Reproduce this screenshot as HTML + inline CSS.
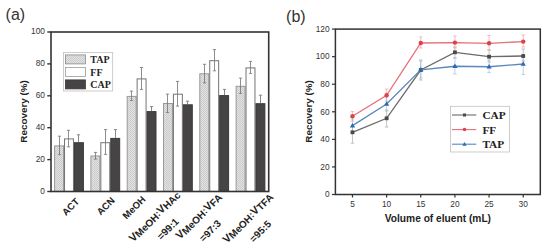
<!DOCTYPE html><html><head><meta charset="utf-8"><style>
html,body{margin:0;padding:0;background:#fff;}
svg{display:block;}
#w{width:550px;height:248px;overflow:hidden;}
text{font-family:"Liberation Sans",sans-serif;fill:#333;}
.tk{font-size:8.3px;}
.ttl{font-size:9.9px;font-weight:bold;fill:#222;}
.ttl2{font-size:10.2px;font-weight:bold;fill:#222;}
.pl{font-size:16px;fill:#333;}
.xl{font-size:9.6px;font-weight:bold;fill:#222;}
.lg{font-family:"Liberation Serif",serif;font-weight:bold;font-size:10px;fill:#252525;}
.lg2{font-family:"Liberation Serif",serif;font-weight:bold;font-size:11.3px;fill:#222;}
</style></head><body><div id="w"><svg width="550" height="248" viewBox="0 0 550 248"><defs><filter id="bl" x="0" y="0" width="1" height="1" color-interpolation-filters="sRGB"><feGaussianBlur stdDeviation="0"/></filter><pattern id="chk" width="2" height="2" patternUnits="userSpaceOnUse"><rect width="2" height="2" fill="#e2e2e2"/><rect width="1" height="1" fill="#cbcbcb"/><rect x="1" y="1" width="1" height="1" fill="#cbcbcb"/></pattern></defs><g><rect x="54.6" y="145.9" width="8.93" height="45.6" fill="url(#chk)" stroke="#999" stroke-width="1"/><rect x="64.53" y="138.9" width="8.93" height="52.6" fill="#fff" stroke="#747474" stroke-width="1"/><rect x="74.46" y="142.7" width="8.93" height="48.8" fill="#464444" stroke="#3a3a3a" stroke-width="1"/><rect x="90.9" y="156" width="8.93" height="35.5" fill="url(#chk)" stroke="#999" stroke-width="1"/><rect x="100.83" y="142.7" width="8.93" height="48.8" fill="#fff" stroke="#747474" stroke-width="1"/><rect x="110.76" y="138.4" width="8.93" height="53.1" fill="#464444" stroke="#3a3a3a" stroke-width="1"/><rect x="127.2" y="96.4" width="8.93" height="95.1" fill="url(#chk)" stroke="#999" stroke-width="1"/><rect x="137.13" y="78.9" width="8.93" height="112.6" fill="#fff" stroke="#747474" stroke-width="1"/><rect x="147.06" y="111.6" width="8.93" height="79.9" fill="#464444" stroke="#3a3a3a" stroke-width="1"/><rect x="163.5" y="103.5" width="8.93" height="88" fill="url(#chk)" stroke="#999" stroke-width="1"/><rect x="173.43" y="94.2" width="8.93" height="97.3" fill="#fff" stroke="#747474" stroke-width="1"/><rect x="183.36" y="104.8" width="8.93" height="86.7" fill="#464444" stroke="#3a3a3a" stroke-width="1"/><rect x="199.8" y="73.8" width="8.93" height="117.7" fill="url(#chk)" stroke="#999" stroke-width="1"/><rect x="209.73" y="60.7" width="8.93" height="130.8" fill="#fff" stroke="#747474" stroke-width="1"/><rect x="219.66" y="95.6" width="8.93" height="95.9" fill="#464444" stroke="#3a3a3a" stroke-width="1"/><rect x="236.1" y="86.3" width="8.93" height="105.2" fill="url(#chk)" stroke="#999" stroke-width="1"/><rect x="246.03" y="67.9" width="8.93" height="123.6" fill="#fff" stroke="#747474" stroke-width="1"/><rect x="255.96" y="103.7" width="8.93" height="87.8" fill="#464444" stroke="#3a3a3a" stroke-width="1"/><path d="M59.5 136.2V154.6M57.9 136.2H61.1M57.9 154.6H61.1" stroke="#7a7a7a" stroke-width="0.85" fill="none"/><path d="M68.5 130.3V146.8M66.9 130.3H70.1M66.9 146.8H70.1" stroke="#7a7a7a" stroke-width="0.85" fill="none"/><path d="M78.5 134.8V142.2M76.9 134.8H80.1" stroke="#7a7a7a" stroke-width="0.9" fill="none"/><path d="M95.5 152.4V159.1M93.9 152.4H97.1M93.9 159.1H97.1" stroke="#7a7a7a" stroke-width="0.85" fill="none"/><path d="M105.5 129.6V154.4M103.9 129.6H107.1M103.9 154.4H107.1" stroke="#7a7a7a" stroke-width="0.85" fill="none"/><path d="M115.5 129.6V137.9M113.9 129.6H117.1" stroke="#7a7a7a" stroke-width="0.9" fill="none"/><path d="M131.5 91.1V100.5M129.9 91.1H133.1M129.9 100.5H133.1" stroke="#7a7a7a" stroke-width="0.85" fill="none"/><path d="M141.5 67.5V89.4M139.9 67.5H143.1M139.9 89.4H143.1" stroke="#7a7a7a" stroke-width="0.85" fill="none"/><path d="M151.5 106.6V111.1M149.9 106.6H153.1" stroke="#7a7a7a" stroke-width="0.9" fill="none"/><path d="M167.5 94.1V112.5M165.9 94.1H169.1M165.9 112.5H169.1" stroke="#7a7a7a" stroke-width="0.85" fill="none"/><path d="M177.5 81.4V106.1M175.9 81.4H179.1M175.9 106.1H179.1" stroke="#7a7a7a" stroke-width="0.85" fill="none"/><path d="M187.5 101.2V104.3M185.9 101.2H189.1" stroke="#7a7a7a" stroke-width="0.9" fill="none"/><path d="M204.5 64.3V82.9M202.9 64.3H206.1M202.9 82.9H206.1" stroke="#7a7a7a" stroke-width="0.85" fill="none"/><path d="M214.5 49.6V70.8M212.9 49.6H216.1M212.9 70.8H216.1" stroke="#7a7a7a" stroke-width="0.85" fill="none"/><path d="M224.5 89.4V95.1M222.9 89.4H226.1" stroke="#7a7a7a" stroke-width="0.9" fill="none"/><path d="M240.5 78.1V93.4M238.9 78.1H242.1M238.9 93.4H242.1" stroke="#7a7a7a" stroke-width="0.85" fill="none"/><path d="M250.5 61.4V73.4M248.9 61.4H252.1M248.9 73.4H252.1" stroke="#7a7a7a" stroke-width="0.85" fill="none"/><path d="M260.5 95.2V103.2M258.9 95.2H262.1" stroke="#7a7a7a" stroke-width="0.9" fill="none"/><rect x="51" y="32" width="217.7" height="159.5" fill="none" stroke="#333" stroke-width="1.6"/><path d="M47.3 191.5H51" stroke="#333" stroke-width="1.4"/><text x="44.9" y="193.5" text-anchor="end" class="tk">0</text><path d="M47.3 159.6H51" stroke="#333" stroke-width="1.4"/><text x="44.9" y="161.6" text-anchor="end" class="tk">20</text><path d="M47.3 127.7H51" stroke="#333" stroke-width="1.4"/><text x="44.9" y="129.7" text-anchor="end" class="tk">40</text><path d="M47.3 95.8H51" stroke="#333" stroke-width="1.4"/><text x="44.9" y="97.8" text-anchor="end" class="tk">60</text><path d="M47.3 63.9H51" stroke="#333" stroke-width="1.4"/><text x="44.9" y="65.9" text-anchor="end" class="tk">80</text><path d="M47.3 32H51" stroke="#333" stroke-width="1.4"/><text x="44.9" y="34" text-anchor="end" class="tk">100</text><text transform="translate(26.8 111.4) rotate(-90)" text-anchor="middle" class="ttl">Recovery (%)</text><text x="5.6" y="20.0" class="pl">(a)</text><rect x="63.5" y="52.4" width="49.2" height="38.6" fill="#fff" stroke="#c0c0c0" stroke-width="0.8"/><rect x="65.4" y="54.9" width="20" height="9" fill="url(#chk)" stroke="#8a8a8a" stroke-width="0.8"/><text x="90.3" y="63.1" class="lg">TAP</text><rect x="65.4" y="67.4" width="20" height="9" fill="#fff" stroke="#9a9a9a" stroke-width="0.8"/><text x="90.3" y="75.6" class="lg">FF</text><rect x="65.4" y="79.9" width="20" height="9" fill="#464444" stroke="#3a3a3a" stroke-width="0.8"/><text x="90.3" y="88.1" class="lg">CAP</text><text transform="translate(79.85 202.2) rotate(-45)" text-anchor="end" class="xl">ACT</text><text transform="translate(115.4 201.1) rotate(-45)" text-anchor="end" class="xl">ACN</text><text transform="translate(146.1 200.1) rotate(-45)" text-anchor="end" class="xl">MeOH</text><text transform="translate(180.4 195.25) rotate(-45)" text-anchor="end" class="xl"><tspan font-size="11.0">V</tspan><tspan font-size="10.0" dy="1.0">MeOH</tspan><tspan dy="-1.0">:</tspan><tspan font-size="11.0">V</tspan><tspan font-size="10.0" dy="1.0">HAc</tspan></text><text transform="translate(179.5 222.2) rotate(-45)" text-anchor="end" class="xl" style="font-size:10px">=99:1</text><text transform="translate(222.2 197.5) rotate(-45)" text-anchor="end" class="xl"><tspan font-size="11.0">V</tspan><tspan font-size="10.0" dy="1.0">MeOH</tspan><tspan dy="-1.0">:</tspan><tspan font-size="11.0">V</tspan><tspan font-size="10.0" dy="1.0">FA</tspan></text><text transform="translate(221.8 224) rotate(-45)" text-anchor="end" class="xl" style="font-size:10px">=97:3</text><text transform="translate(273.35 197.3) rotate(-45)" text-anchor="end" class="xl"><tspan font-size="11.0">V</tspan><tspan font-size="10.0" dy="1.0">MeOH</tspan><tspan dy="-1.0">:</tspan><tspan font-size="11.0">V</tspan><tspan font-size="10.0" dy="1.0">TFA</tspan></text><text transform="translate(272 224.6) rotate(-45)" text-anchor="end" class="xl" style="font-size:10px">=95:5</text><rect x="335.4" y="29.1" width="204.9" height="165.4" fill="none" stroke="#333" stroke-width="1.5"/><path d="M332 194.5H335.4" stroke="#333" stroke-width="1.2"/><text x="329.6" y="197.3" text-anchor="end" class="tk">0</text><path d="M332 166.93H335.4" stroke="#333" stroke-width="1.2"/><text x="329.6" y="169.73" text-anchor="end" class="tk">20</text><path d="M332 139.37H335.4" stroke="#333" stroke-width="1.2"/><text x="329.6" y="142.17" text-anchor="end" class="tk">40</text><path d="M332 111.8H335.4" stroke="#333" stroke-width="1.2"/><text x="329.6" y="114.6" text-anchor="end" class="tk">60</text><path d="M332 84.23H335.4" stroke="#333" stroke-width="1.2"/><text x="329.6" y="87.03" text-anchor="end" class="tk">80</text><path d="M332 56.67H335.4" stroke="#333" stroke-width="1.2"/><text x="329.6" y="59.47" text-anchor="end" class="tk">100</text><path d="M332 29.1H335.4" stroke="#333" stroke-width="1.2"/><text x="329.6" y="31.9" text-anchor="end" class="tk">120</text><path d="M352.47 194.5V197.5" stroke="#333" stroke-width="1.2"/><text x="352.47" y="206.9" text-anchor="middle" class="tk">5</text><path d="M386.62 194.5V197.5" stroke="#333" stroke-width="1.2"/><text x="386.62" y="206.9" text-anchor="middle" class="tk">10</text><path d="M420.77 194.5V197.5" stroke="#333" stroke-width="1.2"/><text x="420.77" y="206.9" text-anchor="middle" class="tk">15</text><path d="M454.92 194.5V197.5" stroke="#333" stroke-width="1.2"/><text x="454.92" y="206.9" text-anchor="middle" class="tk">20</text><path d="M489.07 194.5V197.5" stroke="#333" stroke-width="1.2"/><text x="489.07" y="206.9" text-anchor="middle" class="tk">25</text><path d="M523.22 194.5V197.5" stroke="#333" stroke-width="1.2"/><text x="523.22" y="206.9" text-anchor="middle" class="tk">30</text><text transform="translate(311.8 111.4) rotate(-90)" text-anchor="middle" class="ttl">Recovery (%)</text><text x="437.9" y="222.1" text-anchor="middle" class="ttl2">Volume of eluent (mL)</text><text x="286.1" y="21.8" class="pl">(b)</text><path d="M352.47 126V143.2M350.67 126H354.27M350.67 143.2H354.27" stroke="#aaa" stroke-width="0.7" fill="none"/><path d="M386.62 110V127M384.82 110H388.43M384.82 127H388.43" stroke="#aaa" stroke-width="0.7" fill="none"/><path d="M420.77 60V80M418.97 60H422.57M418.97 80H422.57" stroke="#aaa" stroke-width="0.7" fill="none"/><path d="M454.92 47V58M453.12 47H456.72M453.12 58H456.72" stroke="#aaa" stroke-width="0.7" fill="none"/><path d="M489.07 50V62M487.27 50H490.87M487.27 62H490.87" stroke="#aaa" stroke-width="0.7" fill="none"/><path d="M523.22 49V61M521.42 49H525.02M521.42 61H525.02" stroke="#aaa" stroke-width="0.7" fill="none"/><path d="M352.47 111.4V121M350.67 111.4H354.27M350.67 121H354.27" stroke="#f0a0a0" stroke-width="0.7" fill="none"/><path d="M386.62 89V101M384.82 89H388.43M384.82 101H388.43" stroke="#f0a0a0" stroke-width="0.7" fill="none"/><path d="M420.77 37V48M418.97 37H422.57M418.97 48H422.57" stroke="#f0a0a0" stroke-width="0.7" fill="none"/><path d="M454.92 36V48M453.12 36H456.72M453.12 48H456.72" stroke="#f0a0a0" stroke-width="0.7" fill="none"/><path d="M489.07 35.5V50M487.27 35.5H490.87M487.27 50H490.87" stroke="#f0a0a0" stroke-width="0.7" fill="none"/><path d="M523.22 35V47M521.42 35H525.02M521.42 47H525.02" stroke="#f0a0a0" stroke-width="0.7" fill="none"/><path d="M352.47 119V132M350.67 119H354.27M350.67 132H354.27" stroke="#a0c0e0" stroke-width="0.7" fill="none"/><path d="M386.62 97V111M384.82 97H388.43M384.82 111H388.43" stroke="#a0c0e0" stroke-width="0.7" fill="none"/><path d="M420.77 61V78M418.97 61H422.57M418.97 78H422.57" stroke="#a0c0e0" stroke-width="0.7" fill="none"/><path d="M454.92 58V74M453.12 58H456.72M453.12 74H456.72" stroke="#a0c0e0" stroke-width="0.7" fill="none"/><path d="M489.07 60V72.5M487.27 60H490.87M487.27 72.5H490.87" stroke="#a0c0e0" stroke-width="0.7" fill="none"/><path d="M523.22 56V74.5M521.42 56H525.02M521.42 74.5H525.02" stroke="#a0c0e0" stroke-width="0.7" fill="none"/><polyline points="352.47,132.3 386.62,118.3 420.77,70 454.92,52.3 489.07,56.7 523.22,56" fill="none" stroke="#6a6a6a" stroke-width="1.3"/><rect x="350.57" y="130.4" width="3.8" height="3.8" fill="#4a4a4a"/><rect x="384.73" y="116.4" width="3.8" height="3.8" fill="#4a4a4a"/><rect x="418.88" y="68.1" width="3.8" height="3.8" fill="#4a4a4a"/><rect x="453.02" y="50.4" width="3.8" height="3.8" fill="#4a4a4a"/><rect x="487.17" y="54.8" width="3.8" height="3.8" fill="#4a4a4a"/><rect x="521.32" y="54.1" width="3.8" height="3.8" fill="#4a4a4a"/><polyline points="352.47,116.3 386.62,95.3 420.77,43 454.92,42.6 489.07,43.3 523.22,41.6" fill="none" stroke="#e6707a" stroke-width="1.3"/><circle cx="352.47" cy="116.3" r="2.2" fill="#e04048"/><circle cx="386.62" cy="95.3" r="2.2" fill="#e04048"/><circle cx="420.77" cy="43" r="2.2" fill="#e04048"/><circle cx="454.92" cy="42.6" r="2.2" fill="#e04048"/><circle cx="489.07" cy="43.3" r="2.2" fill="#e04048"/><circle cx="523.22" cy="41.6" r="2.2" fill="#e04048"/><polyline points="352.47,125.6 386.62,104 420.77,69.8 454.92,66.25 489.07,66.75 523.22,64" fill="none" stroke="#5a88bc" stroke-width="1.3"/><path d="M352.47 122.9L355.07 127.4L349.87 127.4Z" fill="#2f6ab0"/><path d="M386.62 101.3L389.23 105.8L384.02 105.8Z" fill="#2f6ab0"/><path d="M420.77 67.1L423.38 71.6L418.17 71.6Z" fill="#2f6ab0"/><path d="M454.92 63.55L457.52 68.05L452.32 68.05Z" fill="#2f6ab0"/><path d="M489.07 64.05L491.67 68.55L486.47 68.55Z" fill="#2f6ab0"/><path d="M523.22 61.3L525.82 65.8L520.62 65.8Z" fill="#2f6ab0"/><rect x="450.5" y="106.3" width="59" height="45.7" fill="#fff" stroke="#c0c0c0" stroke-width="0.8"/><path d="M452 115H476.3" stroke="#6a6a6a" stroke-width="1.1"/><rect x="462.98" y="113.48" width="3.04" height="3.04" fill="#4a4a4a"/><text x="482.4" y="119.2" class="lg2">CAP</text><path d="M452 129.6H476.3" stroke="#e6707a" stroke-width="1.1"/><circle cx="464.5" cy="129.6" r="1.76" fill="#e04048"/><text x="482.4" y="133.8" class="lg2">FF</text><path d="M452 144.2H476.3" stroke="#5a88bc" stroke-width="1.1"/><path d="M464.5 142.04L466.58 145.64L462.42 145.64Z" fill="#2f6ab0"/><text x="482.4" y="148.4" class="lg2">TAP</text></g></svg></div></body></html>
